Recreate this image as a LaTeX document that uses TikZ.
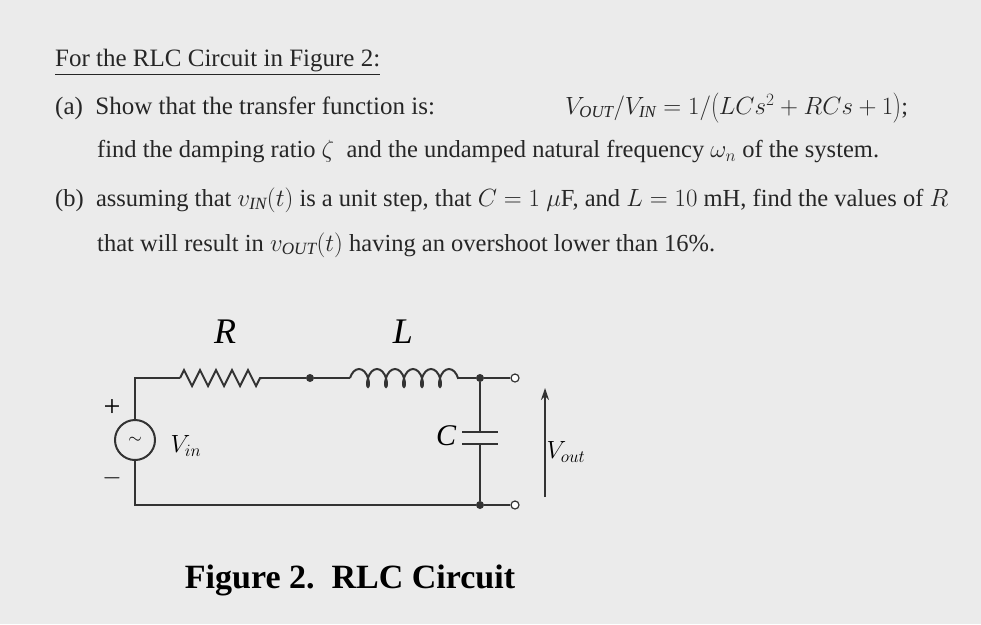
\documentclass[tikz,border=0pt]{standalone}
\usepackage{fontspec}
\setmainfont{Liberation Serif}
\usetikzlibrary{decorations.pathmorphing,arrows.meta}
\begin{document}
\begin{tikzpicture}[x=1pt,y=-1pt,
  txt/.style={anchor=west,inner sep=0pt,font=\fontsize{25}{28}\selectfont,text=black!85},
  wire/.style={line width=2pt,black!80},
  dotn/.style={circle,fill=black!80,inner sep=0pt,minimum size=8pt},
  term/.style={circle,draw=black!80,fill=white,inner sep=0pt,minimum size=8pt,line width=1.2pt}]
\fill[black!8] (0,0) rectangle (981,624);
\useasboundingbox (0,0) rectangle (981,624);
\node[txt] (t0) at (55,62) {\underline{For the RLC Circuit in Figure 2:}};
\node[txt] (t1) at (55,108) {(a)\ \ Show that the transfer function is:};
\node[txt,font=\fontsize{24}{28}\selectfont] (t1f) at (565,108) {$V_{\mathit{OUT}}/V_{\mathit{IN}}=1/\!\left(LCs^{2}+RCs+1\right)$;};
\node[txt,font=\fontsize{24.5}{28}\selectfont] (t2) at (97,152) {find the damping ratio $\zeta$ \ and the undamped natural frequency $\omega_n$ of the system.};
\node[txt,font=\fontsize{24.5}{28}\selectfont] (t3) at (55,200) {(b)\ \ assuming that $v_{\mathit{IN}}(t)$ is a unit step, that $C=1\ \mu$F, and $L=10$\ mH, find the values of $R$};
\node[txt,font=\fontsize{24.5}{28}\selectfont] (t4) at (97,245) {that will result in $v_{\mathit{OUT}}(t)$ having an overshoot lower than 16\%.};
% circuit
\node[circle,draw=black!80,line width=2pt,minimum size=40pt,inner sep=0pt,font=\LARGE] (src) at (135,440) {$\sim$};
\coordinate (tl) at (135,378);
\coordinate (bl) at (135,505);
\coordinate (r1) at (180,378);
\coordinate (r2) at (262,378);
\node[dotn] (d1) at (310,378) {};
\coordinate (l1) at (350,378);
\coordinate (l2) at (458,378);
\node[dotn] (d2) at (480,378) {};
\node[term] (o1) at (515,378) {};
\node[dotn] (d3) at (480,505) {};
\node[term] (o2) at (515,505) {};
\coordinate (c1) at (480,432);
\coordinate (c2) at (480,444);
\draw[wire] (src.north) -- (tl) -- (r1);
\draw[wire,decorate,decoration={zigzag,segment length=16pt,amplitude=8pt}] (r1) -- (r2);
\draw[wire] (r2) -- (d1) -- (l1);
\draw[wire,decorate,decoration={coil,aspect=0.5,segment length=18pt,amplitude=9pt}] (l1) -- (l2);
\draw[wire] (l2) -- (d2) -- (o1);
\draw[wire] (d2) -- (c1);
\draw[wire] (462,432) -- (498,432);
\draw[wire] (462,444) -- (498,444);
\draw[wire] (c2) -- (d3);
\draw[wire] (src.south) -- (bl) -- (d3) -- (o2);
\coordinate (a1) at (545,497);
\coordinate (a2) at (545,388);
\draw[line width=1.5pt,black!80,-{Stealth[length=12pt,width=8pt]}] (a1) -- (a2);
\node[font=\fontsize{36}{40}\selectfont\itshape] (lR) at (225,332) {R};
\node[font=\fontsize{36}{40}\selectfont\itshape] (lL) at (403,332) {L};
\node[font=\fontsize{30}{32}\selectfont\itshape] (lC) at (446,436) {C};
\node[font=\fontsize{30}{32}\selectfont] (lp) at (112,408) {+};
\node[font=\fontsize{30}{32}\selectfont] (lm) at (112,478) {$-$};
\node[font=\fontsize{26}{28}\selectfont] (lvin) at (186,446) {$V_{in}$};
\node[font=\fontsize{26}{28}\selectfont] (lvout) at (566,452) {$V_{out}$};
\node[font=\fontsize{34}{36}\selectfont\bfseries] (cap) at (350,580) {Figure 2.\ \ RLC Circuit};
\end{tikzpicture}
\end{document}
